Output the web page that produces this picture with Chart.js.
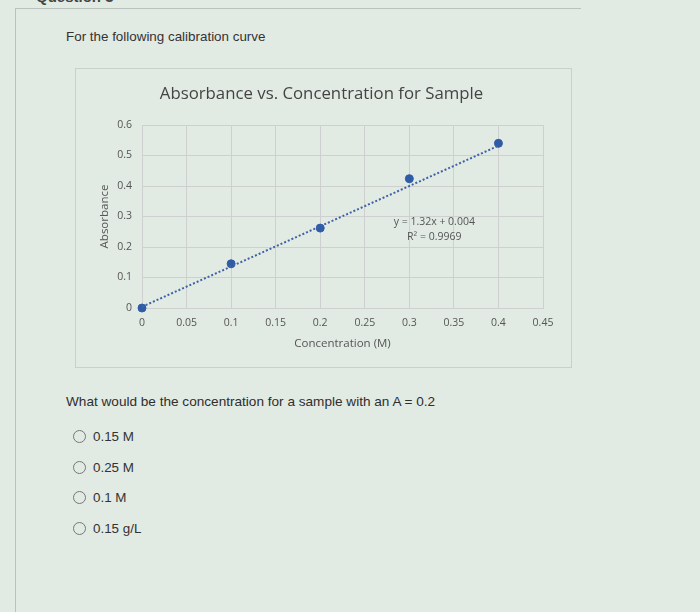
<!DOCTYPE html>
<html>
<head>
<meta charset="utf-8">
<script src="https://cdn.jsdelivr.net/npm/chart.js@4.4.1/dist/chart.umd.min.js"></script>
<style>
    body { margin: 0; width: 700px; height: 612px; background: #e2eae4; position: relative; overflow: hidden; font-family: "Liberation Sans", Arial, sans-serif; }
    .frame { position: absolute; left: 15px; top: 8px; width: 565px; height: 620px; border-left: 1px solid #b9c2bc; border-top: 1px solid #b9c2bc; }
    .qtitle { position: absolute; left: 36px; top: -12px; font-size: 15px; font-weight: bold; color: #444; }
    .intro { position: absolute; left: 66px; top: 29px; font-size: 13.4px; color: #333; }
    .chartBox { position: absolute; left: 75px; top: 68px; width: 495px; height: 298px; border: 1px solid #c9cfcb; }
    .question { position: absolute; left: 66px; top: 394px; font-size: 13.6px; color: #2e2e2e; }
    .opt { position: absolute; left: 73px; font-size: 13.4px; color: #333; }
    .opt span.radio { display: inline-block; width: 11px; height: 11px; border: 1.5px solid #777; border-radius: 50%; vertical-align: -2px; margin-right: 7px; }
</style>
</head>
<body>
<div class="frame"></div>
<div class="qtitle">Question 3</div>
<div class="intro">For the following calibration curve</div>
<div class="chartBox"><canvas id="calChart" width="495" height="298"></canvas></div>
<div class="question">What would be the concentration for a sample with an A = 0.2</div>
<div id="options"></div>

<script>
// calibration data
const concentrations = [0, 0.1, 0.2, 0.3, 0.4];
const absorbances = [0, 0.145, 0.262, 0.424, 0.54];
const trendX = [0, 0.4];
const trendY = [0.004, 0.532];
const chartTitle = 'Absorbance vs. Concentration for Sample';
const equationLines = ['y = 1.32x + 0.004', 'R² = 0.9969'];
const answerOptions = ['0.15 M', '0.25 M', '0.1 M', '0.15 g/L'];

const optionsDiv = document.getElementById('options');
answerOptions.forEach((text, i) => {
    const div = document.createElement('div');
    div.className = 'opt';
    div.style.top = (429 + i * 30.5) + 'px';
    div.innerHTML = `<span class="radio"></span>${text}`;
    optionsDiv.appendChild(div);
});

// title centred over the whole chart box, plus the trendline equation
const chartTexts = {
    id: 'chartTexts',
    afterDatasetsDraw(chart) {
        const { ctx, scales: { x, y } } = chart;
        ctx.save();
        ctx.fillStyle = '#444';
        ctx.textAlign = 'center';
        ctx.textBaseline = 'middle';
        ctx.font = '16.8px "Open Sans", sans-serif';
        ctx.fillText(chartTitle, chart.width / 2 - 2, 25.5);

        ctx.font = '10.5px "Open Sans", sans-serif';
        ctx.fillStyle = '#555';
        ctx.fillText(equationLines[0], x.getPixelForValue(0.328), y.getPixelForValue(0.282));
        ctx.fillText(equationLines[1], x.getPixelForValue(0.328), y.getPixelForValue(0.233));
        ctx.restore();
    }
};

const tickFont = { family: '"Open Sans", sans-serif', size: 10.5 };

const ctx = document.getElementById('calChart').getContext('2d');
const calChart = new Chart(ctx, {
    type: 'scatter',
    data: {
        datasets: [{
            label: 'Trend',
            data: trendX.map((x, i) => ({ x: x, y: trendY[i] })),
            showLine: true,
            borderColor: '#3d62a6',
            borderWidth: 2,
            borderDash: [2, 2],
            pointRadius: 0,
            clip: false
        }, {
            label: 'Sample',
            data: concentrations.map((x, i) => ({ x: x, y: absorbances[i] })),
            backgroundColor: '#2f5ca6',
            borderColor: '#2f5ca6',
            pointRadius: 4,
            clip: false
        }]
    },
    plugins: [chartTexts],
    options: {
        responsive: false,
        animation: false,
        layout: { padding: { left: 0, right: 28, top: 56, bottom: 0 } },
        plugins: {
            legend: { display: false },
            tooltip: { enabled: false },
            title: { display: false }
        },
        scales: {
            x: {
                type: 'linear',
                min: 0,
                max: 0.45,
                afterFit: scale => { scale.height = 59; },
                ticks: { stepSize: 0.05, padding: 9, color: '#555', font: tickFont, callback: v => String(+v.toFixed(2)) },
                grid: { color: '#cdd0ce', drawTicks: false },
                border: { color: '#cdd0ce' },
                title: { display: true, text: 'Concentration (M)', color: '#555', font: { family: '"Open Sans", sans-serif', size: 11.5 }, padding: { top: 0, bottom: 16.5 } }
            },
            y: {
                min: 0,
                max: 0.6,
                afterFit: scale => { scale.width = 66; },
                ticks: { stepSize: 0.1, padding: 10, color: '#555', font: tickFont, callback: v => String(+v.toFixed(1)) },
                grid: { color: '#cdd0ce', drawTicks: false },
                border: { color: '#cdd0ce' },
                title: { display: true, text: 'Absorbance', color: '#555', font: { family: '"Open Sans", sans-serif', size: 11.5 }, padding: { top: 22, bottom: 0 } }
            }
        }
    }
});
</script>
</body>
</html>
